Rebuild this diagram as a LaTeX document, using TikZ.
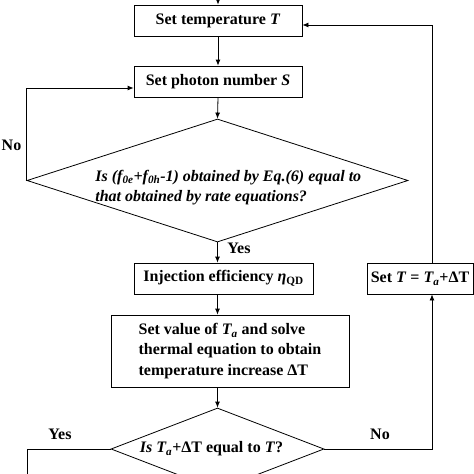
\documentclass[tikz,border=0pt]{standalone}
\usepackage{fontspec}
\setmainfont{Liberation Serif}
\usetikzlibrary{shapes.geometric,arrows.meta}

\begin{document}
\begin{tikzpicture}[x=1pt,y=-1pt,line width=0.8pt,
        font=\fontsize{16}{20.5}\selectfont\bfseries,
        box/.style={draw,rectangle,inner sep=0pt,minimum height=31pt},
        test/.style={draw,diamond,inner sep=0pt},
        >={Latex[length=6pt,width=5pt]}]
        \useasboundingbox (0,0) rectangle (474,474);
        \coordinate (start) at (218,-2);
        \coordinate (exit) at (27,480);
        \node [box,minimum width=168pt] (settemp) at (218,20.5) {Set temperature \textit{T}};
        \node [box,minimum width=168pt] (setphoton) at (218,81.5) {Set photon number \textit{S}};
        \node [test,minimum width=381pt,minimum height=123pt] (dec1) at (217.5,180.5) {};
        \node [anchor=west,align=left,inner sep=0pt] (dec1text) at (95,187.5)
            {\textit{Is (f\textsubscript{0\textit{e}}+f\textsubscript{0\textit{h}}-1) obtained by Eq.(6) equal to}\\
             \textit{that obtained by rate equations?}};
        \node [box,minimum width=179pt] (inject) at (223.5,278.5) {Injection efficiency \textit{η}\textsubscript{QD}};
        \node [box,minimum width=238pt,minimum height=72pt,align=left] (thermal) at (230,351)
            {Set value of \textit{T\textsubscript{a}} and solve\\
             thermal equation to obtain\\
             temperature increase ΔT};
        \node [test,minimum width=213pt,minimum height=82pt] (dec2) at (217.5,449) {};
        \node [inner sep=0pt] (dec2text) at (211.5,449) {\textit{Is T\textsubscript{a}}+ΔT equal to \textit{T}?};
        \node [box,minimum width=106pt] (setT) at (420,278.5) {Set \textit{T} = \textit{T\textsubscript{a}}+ΔT};
        \node (no1) at (11.5,145) {No};
        \node (yes1) at (239,248) {Yes};
        \node (yes2) at (60,434) {Yes};
        \node (no2) at (380,434) {No};
        \draw [->] (start) -- (settemp.north);
        \draw [->] (settemp.south) -- (setphoton.north);
        \draw [->] (setphoton.south) -- (dec1.north);
        \draw [->] (dec1.south) -- (dec1.south |- inject.north);
        \draw [->] (dec1.south |- inject.south) -- (dec1.south |- thermal.north);
        \draw [->] (dec1.south |- thermal.south) -- (dec2.north);
        \draw [->] (dec1.west) |- ([yshift=-6.5pt]setphoton.west);
        \draw (dec2.west) -| (exit);
        \draw [->] (dec2.east) -| ([xshift=12pt]setT.south);
        \draw [->] ([xshift=12pt]setT.north) |- ([yshift=-4.5pt]settemp.east);
    \end{tikzpicture}
\end{document}
